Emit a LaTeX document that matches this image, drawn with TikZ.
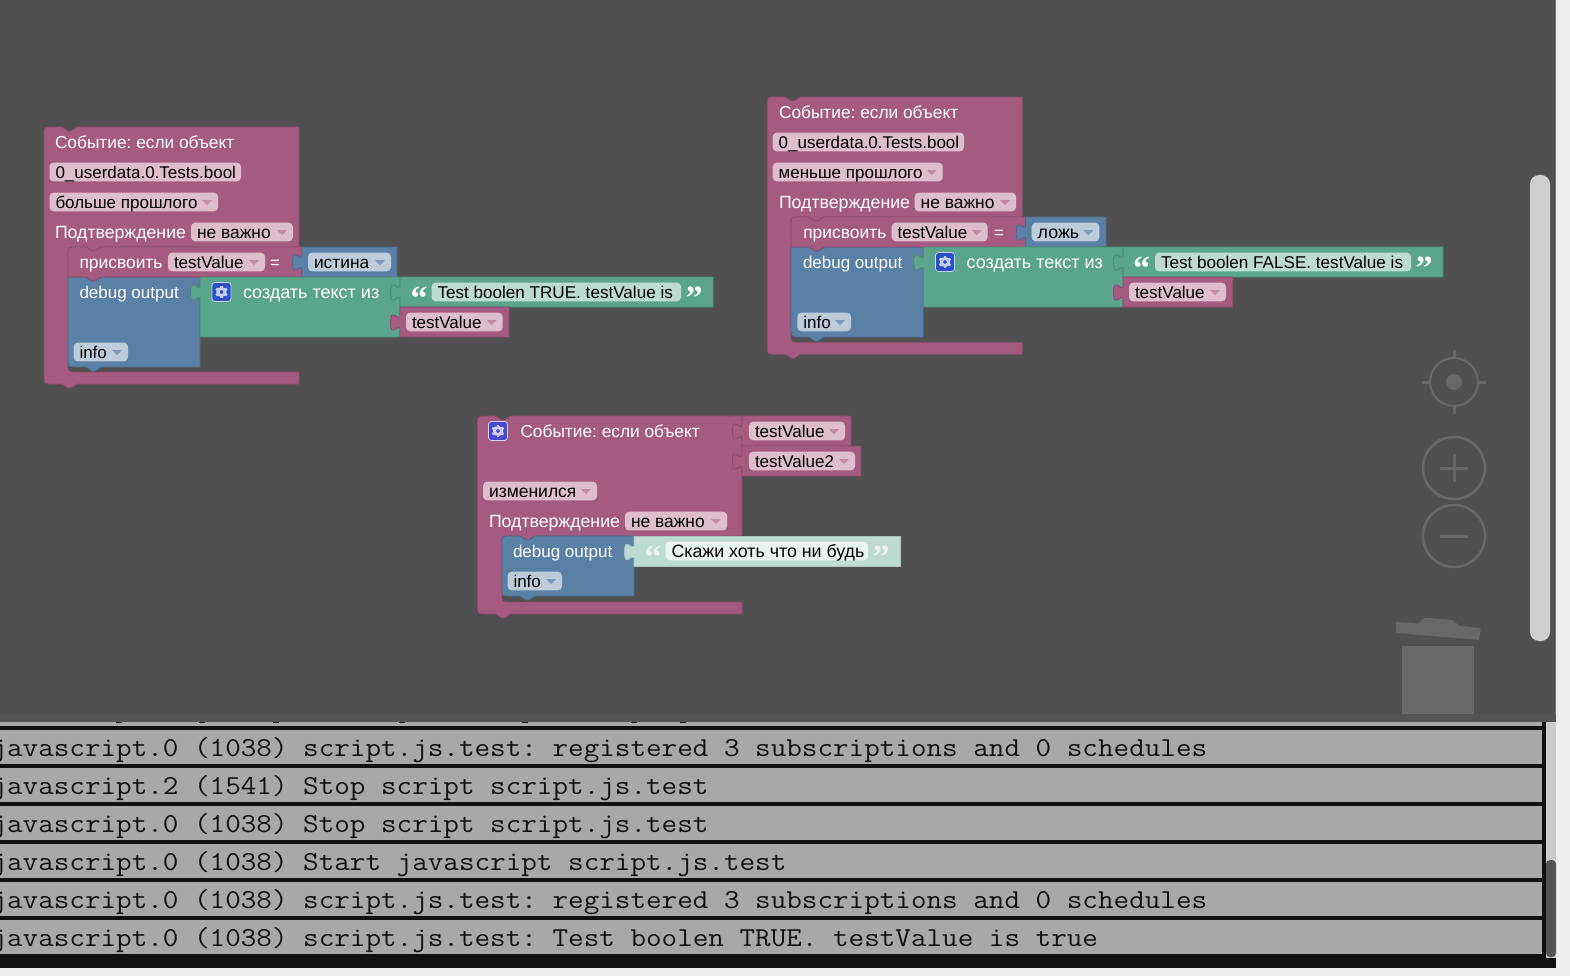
\documentclass[tikz,border=0pt]{standalone}
\usepackage{fontspec}
\setmainfont{Liberation Sans}
\newfontfamily\qfont{Liberation Serif}
\frenchspacing
\definecolor{bgd}{HTML}{505050}
\definecolor{pinkb}{HTML}{A55B80}
\definecolor{pinkd}{HTML}{8A4A6A}
\definecolor{pinkf}{HTML}{DEBDCC}
\definecolor{blueb}{HTML}{5B80A5}
\definecolor{blued}{HTML}{4A6A8A}
\definecolor{bluef}{HTML}{BDCCDB}
\definecolor{greenb}{HTML}{5BA58C}
\definecolor{greend}{HTML}{4A8A74}
\definecolor{greenf}{HTML}{BDDBD1}
\definecolor{shadowb}{HTML}{BDDBD1}
\definecolor{shadowd}{HTML}{A8C8BC}
\definecolor{shadowf}{HTML}{E9F3EF}
\definecolor{ctl}{HTML}{686868}
\definecolor{logrow}{HTML}{A8A8A8}
\definecolor{logblk}{HTML}{111111}
\definecolor{pagebg}{HTML}{EFEFEF}
\definecolor{iconb}{HTML}{2A50C8}
\definecolor{iconp}{HTML}{4A4AD0}
\newcounter{nn}
\newcommand{\sz}[2]{{\fontsize{#1}{18}\selectfont #2}}
\tikzset{
  blocktext/.style={anchor=base west,inner sep=0pt,outer sep=0pt,text=white,font=\fontsize{17}{18}\selectfont},
  fieldtext/.style={anchor=base west,inner sep=0pt,outer sep=0pt,text=black,font=\fontsize{17}{18}\selectfont},
  logtext/.style={anchor=base west,inner sep=0pt,outer sep=0pt,text=logblk,xscale=1.1045,font=\ttfamily\fontsize{27.4}{30}\selectfont},
  quotemark/.style={anchor=base,inner sep=0pt,font=\qfont\bfseries\fontsize{34}{34}\selectfont},
  ctlline/.style={draw=ctl,line width=2pt,fill=none}
}
% label on a block
\newcommand{\lbl}[3]{\stepcounter{nn}\node[blocktext,name=n\arabic{nn}] at (#1,#2+6.4) {#3};}
% rounded field with text; #1 x1 #2 x2 #3 yc #4 text #5 fill
\newcommand{\plainfld}[5]{%
  \fill[#5,rounded corners=4pt] (#1,#3-9.3) rectangle (#2,#3+9.3);
  \stepcounter{nn}\node[fieldtext,name=n\arabic{nn}] at (#1+6,#3+6.4) {#4};}
% with drop-down triangle; #6 triangle colour
\newcommand{\fld}[6]{%
  \plainfld{#1}{#2}{#3}{#4}{#5}
  \fill[#6] (#2-16,#3-1.8) -- (#2-6,#3-1.8) -- (#2-11,#3+3.2) -- cycle;}
% hat block: #1 color #2 dark #3 x #4 y #5 r #6 inner top #7 inner left #8 inner bottom #9 bottom
\newcommand{\hatb}[9]{%
  \filldraw[fill=#1,draw=#2,line width=.8pt]
   (#3,#4+8) .. controls (#3,#4) .. (#3+8,#4) -- (#3+18,#4) -- ++(6,4) -- ++(3,0) -- ++(6,-4) -- (#5,#4) -- (#5,#6)
   -- (#7+33,#6) -- ++(-6,4) -- ++(-3,0) -- ++(-6,-4) -- (#7+8,#6) .. controls (#7,#6) .. (#7,#6+8)
   -- (#7,#8-8) .. controls (#7,#8) .. (#7+8,#8) -- (#5,#8) -- (#5,#9)
   -- (#3+33,#9) -- ++(-6,4) -- ++(-3,0) -- ++(-6,-4) -- (#3+8,#9) .. controls (#3,#9) .. (#3,#9-8) -- cycle;}
% statement: #1 color #2 dark #3 x #4 y1 #5 x2 #6 y2 #7 TL radius #8 BL radius
\newcommand{\stmt}[8]{%
  \filldraw[fill=#1,draw=#2,line width=.8pt]
   (#3,#4+#7) .. controls (#3,#4) .. (#3+#7,#4) -- (#3+18,#4) -- ++(6,4) -- ++(3,0) -- ++(6,-4) -- (#5,#4) -- (#5,#6)
   -- (#3+33,#6) -- ++(-6,4) -- ++(-3,0) -- ++(-6,-4) -- (#3+#8,#6) .. controls (#3,#6) .. (#3,#6-#8) -- cycle;}
% value block with puzzle tab: #1 color #2 dark #3 x1 #4 y1 #5 x2 #6 y2
\newcommand{\val}[6]{%
  \filldraw[fill=#1,draw=#2,line width=.8pt]
   (#3,#4) -- (#5,#4) -- (#5,#6) -- (#3,#6) -- (#3,#4+21)
   .. controls (#3-3,#4+19) and (#3-4,#4+24) .. (#3-8,#4+23)
   .. controls (#3-10,#4+22) and (#3-10,#4+9) .. (#3-8,#4+8)
   .. controls (#3-4,#4+7) and (#3-3,#4+12) .. (#3,#4+10) -- cycle;}
% gear icon: #1 cx #2 cy #3 fill
\newcommand{\gearicon}[3]{%
  \filldraw[fill=#3,draw=white!75!#3,line width=.8pt,rounded corners=3pt] (#1-9.5,#2-9.5) rectangle (#1+9.5,#2+9.5);
  \draw[white!72!#3,line width=3pt] (#1,#2) circle (3.6);
  \foreach \a in {30,90,...,330} \draw[white!72!#3,line width=2.6pt] (#1,#2) ++(\a:4.2) -- ++(\a:2.2);}
% quotes: #1 x of opening, #2 x of closing, #3 yc, #4 colour
\newcommand{\quotes}[4]{%
  \stepcounter{nn}\node[quotemark,text=#4,name=n\arabic{nn}] at (#1,#3+17) {“};
  \stepcounter{nn}\node[quotemark,text=#4,name=n\arabic{nn}] at (#2,#3+17) {”};}
\newcommand{\logline}[2]{\stepcounter{nn}\node[logtext,name=n\arabic{nn}] at (-8.5,#1) {#2};}
\begin{document}
\begin{tikzpicture}[x=1pt,y=-1pt]
\useasboundingbox (0,0) rectangle (1570,976);
\fill[pagebg] (0,0) rectangle (1570,976);
\fill[bgd] (0,0) rectangle (1555.5,714);
\fill[black!67] (0,714) rectangle (1556,722);
\draw[black!55,line width=.7pt] (1555.5,0) -- (1555.5,714);
% --- log
\fill[logblk] (0,722) rectangle (1556,968);
\fill[black!20] (1546,722) rectangle (1556,958);
\filldraw[fill=black!67,draw=none,rounded corners=4pt] (1546,860) rectangle (1556,957);
\fill[logrow] (0,722) rectangle (1542,726);
\foreach \yy in {119,202,276,402,525,634,683} \fill[logblk] (\yy-3,722) rectangle (\yy+3,723.2);
\foreach \yy in {730,768,806,844,882,920} \fill[logrow] (0,\yy) rectangle (1542,\yy+34);
\logline{756}{javascript.0 (1038) script.js.test: registered 3 subscriptions and 0 schedules}
\logline{794}{javascript.2 (1541) Stop script script.js.test}
\logline{832}{javascript.0 (1038) Stop script script.js.test}
\logline{870}{javascript.0 (1038) Start javascript script.js.test}
\logline{908}{javascript.0 (1038) script.js.test: registered 3 subscriptions and 0 schedules}
\logline{946}{javascript.0 (1038) script.js.test: Test boolen TRUE. testValue is true}
% --- controls
\draw[ctlline] (1454,382) circle (24);
\fill[ctl] (1454,382) circle (8);
\draw[ctlline,line width=3pt] (1454,350) -- (1454,358) (1454,406) -- (1454,414) (1422,382) -- (1430,382) (1478,382) -- (1486,382);
\draw[ctlline,line width=2.5pt] (1454,468) circle (31) (1454,536) circle (31);
\draw[ctlline,line width=3pt] (1440,468) -- (1468,468) (1454,454) -- (1454,482) (1440,536) -- (1468,536);
\fill[ctl] (1396,621.7) -- (1418,623.5) -- (1425,617.7) -- (1452,620) -- (1460,626) -- (1480.7,628) -- (1479,640) -- (1396,633) -- cycle;
\fill[ctl] (1401.7,646) rectangle (1474,714);
% scrollbar
\fill[black!19,rounded corners=9pt] (1530,175) rectangle (1550,641);
% --- block 1
\hatb{pinkb}{pinkd}{44}{127}{299}{247}{68}{372}{384}
\stmt{blueb}{blued}{68}{277}{200}{367}{0}{8}
\stmt{pinkb}{pinkd}{68}{247}{302}{277}{8}{0}
\val{blueb}{blued}{302}{247}{397}{277}
\val{greenb}{greend}{200}{277}{400}{337}
\val{greenb}{greend}{400}{277}{713}{307}
\val{pinkb}{pinkd}{400}{307}{509}{337}
\lbl{55}{142}{\sz{17.3}{Событие: если объект}}
\plainfld{49.5}{241}{172}{0\_userdata.0.Tests.bool}{pinkf}
\fld{49.5}{218}{202}{больше прошлого}{pinkf}{pinkb!70!white}
\lbl{55}{232}{\sz{17.7}{Подтверждение}}
\fld{191}{293}{232}{\sz{17.4}{не важно}}{pinkf}{pinkb!70!white}
\lbl{79.5}{262}{\sz{17.4}{присвоить}}
\fld{168}{265}{262}{testValue}{pinkf}{pinkb!70!white}
\lbl{270}{262}{=}
\fld{308}{391}{262}{\sz{17.4}{истина}}{bluef}{blueb!80!white}
\lbl{79.5}{292}{debug output}
\fld{73.5}{128}{352}{info}{bluef}{blueb!80!white}
\gearicon{221.5}{292}{iconb}
\lbl{243}{292}{\sz{18}{создать текст из}}
\quotes{419}{694}{292}{white}
\plainfld{431.5}{681}{292}{\sz{17.1}{Test boolen TRUE. testValue is}}{greenf}
\fld{406}{502.7}{322}{testValue}{pinkf}{pinkb!70!white}
% --- block 2
\hatb{pinkb}{pinkd}{767.3}{97}{1022.3}{217}{791}{342.3}{354.3}
\stmt{blueb}{blued}{791}{247}{923.3}{337}{0}{8}
\stmt{pinkb}{pinkd}{791}{217}{1025.7}{247}{8}{0}
\val{blueb}{blued}{1025.7}{217}{1106}{247}
\val{greenb}{greend}{923.3}{247}{1123}{307}
\val{greenb}{greend}{1123}{247}{1443}{277}
\val{pinkb}{pinkd}{1123}{277}{1232.7}{307}
\lbl{779}{112}{\sz{17.3}{Событие: если объект}}
\plainfld{772.7}{964}{142}{0\_userdata.0.Tests.bool}{pinkf}
\fld{772.7}{942.7}{172}{меньше прошлого}{pinkf}{pinkb!70!white}
\lbl{779}{202}{\sz{17.7}{Подтверждение}}
\fld{914.7}{1016}{202}{\sz{17.4}{не важно}}{pinkf}{pinkb!70!white}
\lbl{803.3}{232}{\sz{17.4}{присвоить}}
\fld{891.7}{987.7}{232}{testValue}{pinkf}{pinkb!70!white}
\lbl{994}{232}{=}
\fld{1031.7}{1099.3}{232}{\sz{17.8}{ложь}}{bluef}{blueb!80!white}
\lbl{803}{262}{debug output}
\fld{797.3}{851}{322}{info}{bluef}{blueb!80!white}
\gearicon{945}{262}{iconb}
\lbl{966.7}{262}{\sz{18}{создать текст из}}
\quotes{1141.5}{1424}{262}{white}
\plainfld{1155}{1411}{262}{\sz{17.1}{Test boolen FALSE. testValue is}}{greenf}
\fld{1129}{1226}{292}{testValue}{pinkf}{pinkb!70!white}
% --- block 3
\hatb{pinkb}{pinkd}{477.5}{416}{742}{536}{502}{602}{614}
\stmt{blueb}{blued}{502}{536}{634}{596}{8}{8}
\val{shadowb}{shadowd}{634}{536.5}{900.5}{566.5}
\val{pinkb}{pinkd}{742}{416}{851}{446}
\val{pinkb}{pinkd}{742}{446}{861}{476}
\gearicon{498}{431}{iconp}
\lbl{520.5}{431}{\sz{17.3}{Событие: если объект}}
\fld{749}{845}{431}{testValue}{pinkf}{pinkb!70!white}
\fld{749}{855}{461}{testValue2}{pinkf}{pinkb!70!white}
\fld{483}{597}{491}{\sz{17.5}{изменился}}{pinkf}{pinkb!70!white}
\lbl{489}{521}{\sz{17.7}{Подтверждение}}
\fld{625}{727}{521}{\sz{17.4}{не важно}}{pinkf}{pinkb!70!white}
\lbl{513}{551}{debug output}
\fld{507.5}{562}{581}{info}{bluef}{blueb!80!white}
\quotes{653}{881}{551}{shadowf}
\plainfld{665.5}{868}{551}{\sz{17.8}{Скажи хоть что ни будь}}{shadowf}
\end{tikzpicture}
\end{document}
